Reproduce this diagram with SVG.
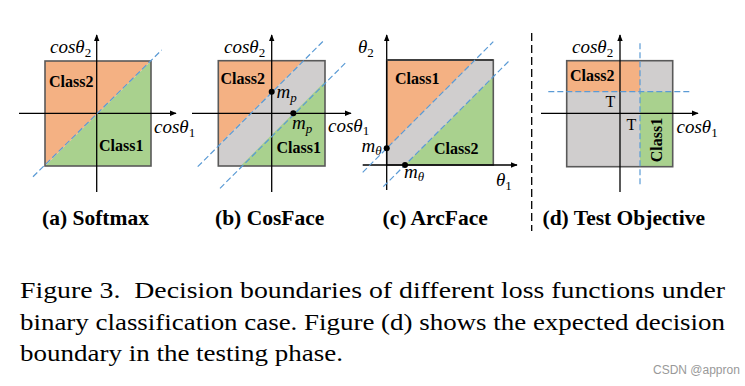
<svg xmlns="http://www.w3.org/2000/svg" width="745" height="386" viewBox="0 0 745 386">
<style>
.sq{fill:none;stroke:#595959;stroke-width:1.6}
.ax{stroke:#000;stroke-width:1.3;fill:none}
.bd{stroke:#5B9BD5;stroke-width:1.2;stroke-dasharray:6,3;fill:none}
.or{fill:#F4B183}
.gr{fill:#A9D18E}
.gy{fill:#D0CECE}
.m{font-family:"Liberation Serif",serif;font-style:italic;font-size:19px;fill:#000}
.sub{font-style:normal;font-size:13px}
.subi{font-style:italic;font-size:13px}
.cl{font-family:"Liberation Serif",serif;font-weight:bold;font-size:16px;fill:#000}
.t{font-family:"Liberation Serif",serif;font-size:16px;fill:#000}
.cap{font-family:"Liberation Serif",serif;font-weight:bold;font-size:21.5px;fill:#000}
.fc{font-family:"Liberation Serif",serif;font-size:23px;fill:#000;white-space:pre}
.wm{font-family:"Liberation Sans",sans-serif;font-size:12px;fill:#999}
</style>
<defs>
<marker id="ah" viewBox="0 0 10 10" refX="9" refY="5" markerWidth="7" markerHeight="7" orient="auto" markerUnits="userSpaceOnUse">
<path d="M0,1 L10,5 L0,9 z" fill="#000"/>
</marker>
</defs>
<rect width="745" height="386" fill="#fff"/>

<g id="panel-a">
<polygon class="or" points="45,61 151,61 45,166"/>
<polygon class="gr" points="151,61 151,166 45,166"/>
<rect class="sq" x="45" y="61" width="106" height="105"/>
<text class="m" x="50" y="53">cosθ<tspan class="sub" dy="4">2</tspan></text>
<text class="m" x="154" y="133">cosθ<tspan class="sub" dy="3.5">1</tspan></text>
<text class="cl" x="49" y="87">Class2</text>
<text class="cl" x="99" y="151">Class1</text>
<text class="cap" x="42" y="225">(a) Softmax</text>
</g>

<g id="panel-b">
<polygon class="gy" points="218.3,60.7 325,60.7 325,166 218.3,166"/>
<polygon class="or" points="218.3,60.7 302.7,60.7 218.3,145.1"/>
<polygon class="gr" points="325,81.6 325,166 240.6,166"/>
<rect class="sq" x="218.3" y="60.7" width="106.7" height="105.3"/>
<text class="m" x="224" y="53">cosθ<tspan class="sub" dy="4">2</tspan></text>
<text class="m" x="328" y="132">cosθ<tspan class="sub" dy="3">1</tspan></text>
<text class="cl" x="220.5" y="84">Class2</text>
<text class="cl" x="276.5" y="152.5">Class1</text>
<text class="m" x="276.5" y="98">m<tspan class="subi" dy="4">p</tspan></text>
<text class="m" x="292" y="129">m<tspan class="subi" dy="4">p</tspan></text>
<text class="cap" x="215" y="225">(b) CosFace</text>
</g>

<g id="panel-c">
<polygon class="gy" points="386.7,60 493.3,60 493.3,165 386.7,165"/>
<polygon class="or" points="386.7,60 475,60 386.7,148.3"/>
<polygon class="gr" points="405,165 493.3,76.7 493.3,165"/>
<rect class="sq" x="386.7" y="60" width="106.6" height="105"/>
<text class="m" x="358" y="53">θ<tspan class="sub" dy="4">2</tspan></text>
<text class="m" x="496" y="186">θ<tspan class="sub" dy="4">1</tspan></text>
<text class="cl" x="395" y="84">Class1</text>
<text class="cl" x="434" y="154">Class2</text>
<text class="m" x="361.5" y="152">m<tspan class="subi" dy="3">θ</tspan></text>
<text class="m" x="404" y="178">m<tspan class="subi" dy="3">θ</tspan></text>
<text class="cap" x="382.5" y="225">(c) ArcFace</text>
</g>

<g id="panel-d">
<rect class="gy" x="566.7" y="60.7" width="106" height="106"/>
<rect class="or" x="566.7" y="60.7" width="73.3" height="31"/>
<rect class="gr" x="640" y="91.7" width="32.7" height="75"/>
<rect class="sq" x="566.7" y="60.7" width="106" height="106"/>
<text class="m" x="572" y="53">cosθ<tspan class="sub" dy="4">2</tspan></text>
<text class="m" x="676.5" y="133">cosθ<tspan class="sub" dy="3.5">1</tspan></text>
<text class="cl" x="570" y="81">Class2</text>
<text class="t" x="605.5" y="107">T</text>
<text class="t" x="626.5" y="130">T</text>
<text class="cl" transform="translate(661.5,140) rotate(-90)" text-anchor="middle">Class1</text>
<text class="cap" x="542.5" y="225">(d) Test Objective</text>
</g>

<g id="connectors">
<line class="ax" x1="96.7" y1="192" x2="96.7" y2="35" marker-end="url(#ah)"/>
<line class="ax" x1="19" y1="113.3" x2="176" y2="113.3" marker-end="url(#ah)"/>
<line class="bd" x1="33" y1="176.7" x2="161.7" y2="50"/>

<line class="ax" x1="271.7" y1="192" x2="271.7" y2="35" marker-end="url(#ah)"/>
<line class="ax" x1="192" y1="113.3" x2="351" y2="113.3" marker-end="url(#ah)"/>
<line class="bd" x1="197.7" y1="166.7" x2="324.3" y2="40"/>
<line class="bd" x1="220" y1="188.3" x2="346.7" y2="61.7"/>
<circle cx="271.7" cy="91.7" r="3"/>
<circle cx="293.3" cy="113.3" r="3"/>

<line class="ax" x1="386.7" y1="190" x2="386.7" y2="35" marker-end="url(#ah)"/>
<line class="ax" x1="362.7" y1="165" x2="517" y2="165" marker-end="url(#ah)"/>
<line x1="386.7" y1="60" x2="493.3" y2="60" stroke="#404040" stroke-width="2"/>
<line class="bd" x1="362.7" y1="172.3" x2="493.3" y2="41.7"/>
<line class="bd" x1="383.3" y1="186.7" x2="509.3" y2="60.7"/>
<circle cx="386.7" cy="148.3" r="3"/>
<circle cx="405" cy="165" r="3"/>

<line x1="531.7" y1="33" x2="531.7" y2="231" stroke="#000" stroke-width="1.3" stroke-dasharray="8,4"/>
<line class="ax" x1="620" y1="192" x2="620" y2="35" marker-end="url(#ah)"/>
<line class="ax" x1="541" y1="113.3" x2="698" y2="113.3" marker-end="url(#ah)"/>
<line class="bd" x1="640" y1="43.3" x2="640" y2="185"/>
<line class="bd" x1="548.3" y1="91.7" x2="690" y2="91.7"/>
</g>

<g id="caption">
<text class="fc" x="20" y="298" textLength="705" lengthAdjust="spacingAndGlyphs">Figure 3.  Decision boundaries of different loss functions under</text>
<text class="fc" x="20" y="330" textLength="705" lengthAdjust="spacingAndGlyphs">binary classification case. Figure (d) shows the expected decision</text>
<text class="fc" x="20" y="361" textLength="323" lengthAdjust="spacingAndGlyphs">boundary in the testing phase.</text>
<text class="wm" x="653" y="374">CSDN @appron</text>
</g>
</svg>
